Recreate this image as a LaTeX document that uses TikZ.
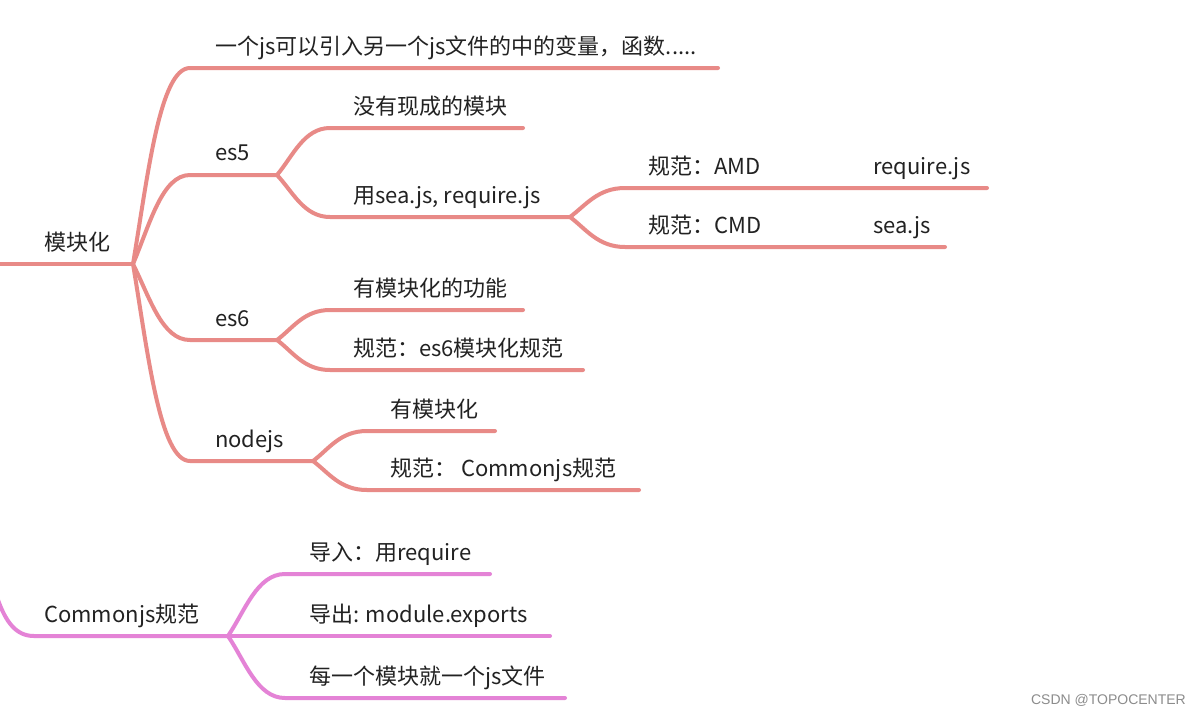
\documentclass[tikz,border=0pt]{standalone}
\usepackage{fontspec}
\setmainfont{Noto Sans CJK SC}
\newfontfamily\wmfont{Liberation Sans}
\definecolor{lred}{HTML}{E88A87}
\definecolor{lpink}{HTML}{E483D6}
\definecolor{txt}{HTML}{222222}
\begin{document}
\begin{tikzpicture}[x=1pt,y=-1pt,
  lbl/.style={anchor=base west, inner sep=0pt, font=\fontsize{22}{26}\selectfont, text=txt},
  redl/.style={draw=lred, line width=4pt, line cap=round},
  pinkl/.style={draw=lpink, line width=4pt, line cap=round}]
\path[use as bounding box, fill=white] (0,0) rectangle (1201,715);

% ---------- coordinates ----------
\coordinate (r0) at (0,264);
\coordinate (m) at (133,264);
\coordinate (a1) at (190,68);  \coordinate (a1e) at (718,68);
\coordinate (b1) at (190,175); \coordinate (b1e) at (277,175);
\coordinate (c1) at (330,128); \coordinate (c1e) at (523,128);
\coordinate (c2) at (330,217); \coordinate (c2e) at (570,217);
\coordinate (d1) at (625,188); \coordinate (d1m) at (783,188); \coordinate (d1e) at (987,188);
\coordinate (d2) at (625,247); \coordinate (d2m) at (783,247); \coordinate (d2e) at (945,247);
\coordinate (b2) at (190,340); \coordinate (b2e) at (277,340);
\coordinate (c3) at (330,310); \coordinate (c3e) at (523,310);
\coordinate (c4) at (330,370); \coordinate (c4e) at (583,370);
\coordinate (b3) at (190,461); \coordinate (b3e) at (313,461);
\coordinate (c5) at (367,431); \coordinate (c5e) at (495,431);
\coordinate (c6) at (367,490); \coordinate (c6e) at (639,490);

\coordinate (p0) at (-2,600);
\coordinate (q) at (34,636);
\coordinate (q0) at (228,636);
\coordinate (e1) at (285,574); \coordinate (e1e) at (490,574);
\coordinate (e2e) at (550,636);
\coordinate (e3) at (285,698); \coordinate (e3e) at (565,698);

% ---------- connectors ----------
\draw[redl] (r0) -- (m);
\draw[redl] (m) .. controls +(15,-90) and +(-30,0) .. (a1) -- (a1e);
\draw[redl] (m) .. controls +(17,-40) and +(-28,0) .. (b1) -- (b1e);
\draw[redl] (m) .. controls +(17,34) and +(-28,0) .. (b2) -- (b2e);
\draw[redl] (m) .. controls +(15,90) and +(-30,0) .. (b3) -- (b3e);
\draw[redl] (b1e) .. controls +(16,-19) and +(-26,0) .. (c1) -- (c1e);
\draw[redl] (b1e) .. controls +(16,17) and +(-26,0) .. (c2) -- (c2e);
\draw[redl] (c2e) .. controls +(16,-12) and +(-27,0) .. (d1) -- (d1m) -- (d1e);
\draw[redl] (c2e) .. controls +(16,12) and +(-27,0) .. (d2) -- (d2m) -- (d2e);
\draw[redl] (b2e) .. controls +(16,-12) and +(-26,0) .. (c3) -- (c3e);
\draw[redl] (b2e) .. controls +(16,12) and +(-26,0) .. (c4) -- (c4e);
\draw[redl] (b3e) .. controls +(16,-12) and +(-27,0) .. (c5) -- (c5e);
\draw[redl] (b3e) .. controls +(16,12) and +(-27,0) .. (c6) -- (c6e);

\draw[pinkl] (p0) .. controls +(8,22) and +(-18,0) .. (q) -- (q0);
\draw[pinkl] (q0) .. controls +(17,-25) and +(-28,0) .. (e1) -- (e1e);
\draw[pinkl] (q0) -- (e2e);
\draw[pinkl] (q0) .. controls +(17,25) and +(-28,0) .. (e3) -- (e3e);

% ---------- labels ----------
\node[lbl] (tm) at (44,250) {模块化};
\node[lbl] (t1) at (215,54) {一个js可以引入另一个js文件的中的变量，函数.....};
\node[lbl] (t2) at (215,160) {es5};
\node[lbl] (t3) at (353,114) {没有现成的模块};
\node[lbl] (t4) at (353,203) {用sea.js, require.js};
\node[lbl] (t5) at (648,174) {规范：AMD};
\node[lbl] (t5b) at (873,174) {require.js};
\node[lbl] (t6) at (648,233) {规范：CMD};
\node[lbl] (t6b) at (873,233) {sea.js};
\node[lbl] (t7) at (215,326) {es6};
\node[lbl] (t8) at (353,296) {有模块化的功能};
\node[lbl] (t9) at (353,356) {规范：es6模块化规范};
\node[lbl] (t10) at (215,447) {nodejs};
\node[lbl] (t11) at (390,417) {有模块化};
\node[lbl] (t12) at (390,476) {规范：\ Commonjs规范};

\node[lbl] (tc) at (44,622) {Commonjs规范};
\node[lbl] (tc1) at (309,560) {导入：用require};
\node[lbl] (tc2) at (309,622) {导出: module.exports};
\node[lbl] (tc3) at (309,684) {每一个模块就一个js文件};

\node[anchor=base east, inner sep=0pt, font=\wmfont\fontsize{14}{16}\selectfont, text=black!45] (wm) at (1186,704) {CSDN @TOPOCENTER};
\end{tikzpicture}
\end{document}
